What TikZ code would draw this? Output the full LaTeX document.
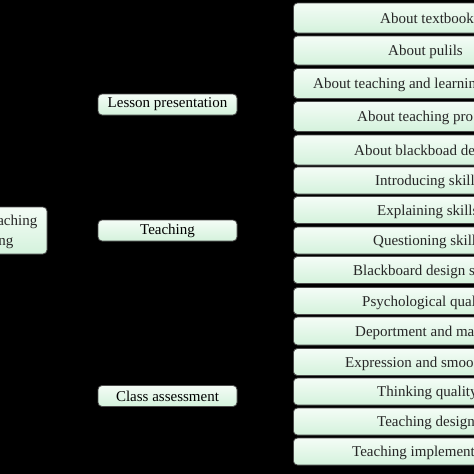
\documentclass[tikz,border=0pt]{standalone}
\usepackage{fontspec}
\setmainfont{Liberation Serif}
\definecolor{mintlo}{HTML}{D4F2DC}
\definecolor{minthi}{HTML}{F4FCF6}
\definecolor{rim}{HTML}{4A4A4A}

\begin{document}
\begin{tikzpicture}[x=1pt,y=-1pt]
                        \tikzstyle{card}=[draw=rim, line width=0.8pt, rounded corners=4pt, top color=minthi, bottom color=mintlo, inner sep=0pt, font=\fontsize{15}{18}\selectfont]
                        \tikzstyle{label}=[inner sep=0pt, font=\fontsize{15}{18}\selectfont, text=black!85]
                        \clip (0,0) rectangle (474,474);
                        \fill[black] (0,0) rectangle (474,474);
                        % root, cut by the left edge
                        \node[card, minimum width=174pt, minimum height=47pt] (root) at (-40,230.5) {};
                        \node[label, anchor=base east] (rootA) at (37.5,225) {aching};
                        \node[label, anchor=base east] (rootB) at (13.5,245) {ng};
                        % second level
                        \node[card, minimum width=139pt, minimum height=21pt] (lesson) at (167.5,104.5) {Lesson presentation};
                        \node[card, minimum width=139pt, minimum height=21pt] (teach) at (167.5,230.5) {Teaching};
                        \node[card, minimum width=139pt, minimum height=21pt] (assess) at (167.5,396) {Class assessment};
                        % third level, cut by the right edge
                        \foreach \i/\c/\h/\tx/\txt in {
                            1/18/30/380/About textbook,
                            2/50.5/29/388/About pulils,
                            3/83.5/30/313/About teaching and learnin,
                            4/116.5/30/357/About teaching pro,
                            5/150/30/354/About blackboad de,
                            6/180.5/27/375/Introducing skill,
                            7/210/27/377/Explaining skills,
                            8/240.5/27/373/Questioning skill,
                            9/270/27/353/Blackboard design s,
                            10/301/27/362/Psychological qual,
                            11/331/28/355/Deportment and ma,
                            12/362/27/345/Expression and smoo,
                            13/391.5/27/377/Thinking quality,
                            14/421.5/27/377/Teaching design,
                            15/451.5/27/352/Teaching implement}
                        {
                            \node[card, anchor=west, minimum width=280pt, minimum height=\h pt] (item\i) at (293,\c) {};
                            \node[label, anchor=base west] (itemtext\i) at (\tx,\c+5) {\txt};
                        }
                    \end{tikzpicture}
\end{document}
